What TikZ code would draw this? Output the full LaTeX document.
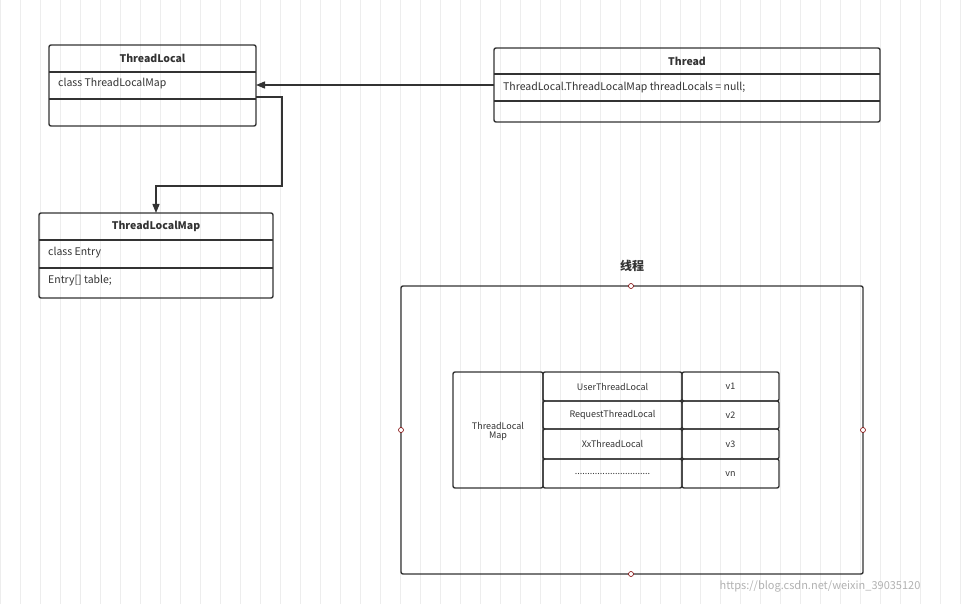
\documentclass[tikz,border=0pt]{standalone}
\usepackage{fontspec}
\setmainfont{Noto Sans CJK SC}
\usetikzlibrary{arrows.meta}
\begin{document}
\begin{tikzpicture}[x=1pt,y=-1pt,
  box/.style={draw=black!80,line width=1.4pt,rounded corners=2pt},
  sep/.style={draw=black!80,line width=1.4pt},
  conn/.style={draw=black!80,line width=1.4pt,-{Triangle[length=9pt,width=7pt]}},
  t/.style={font=\fontsize{10.5}{12}\selectfont,text=black!80,anchor=west,inner sep=0},
  tb/.style={font=\fontsize{10.5}{12}\selectfont\bfseries,text=black!80,inner sep=0},
  s/.style={font=\fontsize{9}{10}\selectfont,text=black!80,inner sep=0},
  pt/.style={circle,draw=red!50!black,fill=white,inner sep=0,minimum size=5pt,line width=0.6pt}]
\useasboundingbox (0,0) rectangle (964,604);
\fill[white] (0,0) rectangle (964,604);
\draw[black!7,line width=0.5pt,step=20] (0,0) grid (964,604);
% ThreadLocal
\draw[box] (49,45) rectangle (256,126);
\draw[sep] (49,72) -- (256,72) (49,99) -- (256,99);
\node[tb] (tl) at (152.5,58) {ThreadLocal};
\node[t] (tlm) at (58,84) {class ThreadLocalMap};
\coordinate (tlR) at (256,85);
\coordinate (tlR2) at (256,97);
% Thread
\draw[box] (494,48) rectangle (880,122);
\draw[sep] (494,74) -- (880,74) (494,101) -- (880,101);
\node[tb] (th) at (687,61) {Thread};
\node[t] (thv) at (503,88) {ThreadLocal.ThreadLocalMap threadLocals = null;};
\coordinate (thL) at (494,85);
% ThreadLocalMap
\draw[box] (39,213) rectangle (273,298);
\draw[sep] (39,240) -- (273,240) (39,268) -- (273,268);
\node[tb] (map) at (156,226) {ThreadLocalMap};
\node[t] (e1) at (48,253) {class Entry};
\node[t] (e2) at (48,281) {Entry[] table;};
\coordinate (mapT) at (156,213);
% connectors
\draw[conn] (thL) -- (tlR);
\draw[conn] (tlR2) -- (282,97) -- (282,186) -- (156,186) -- (mapT);
% thread box
\node[font=\fontsize{12}{14}\selectfont\bfseries,text=black!80] (title) at (632,266) {线程};
\draw[box] (401,286) rectangle (863,574);
\node[pt] at (631,286) {};
\node[pt] at (631,574) {};
\node[pt] at (401,430) {};
\node[pt] at (863,430) {};
% table
\draw[box] (453,372) rectangle (543,488);
\node[s,align=center,font=\fontsize{9}{9}\selectfont] (tmap) at (498,431) {ThreadLocal\\Map};
\foreach \ya/\yb/\k/\v [count=\i] in {372/401/UserThreadLocal/v1,401/429/RequestThreadLocal/v2,429/459/XxThreadLocal/v3,459/488/{..............................}/vn}{
  \draw[box] (543,\ya) rectangle (682,\yb);
  \draw[box] (682,\ya) rectangle (779,\yb);
  \node[s] (k\i) at (612.5,{(\ya+\yb)/2}) {\k};
  \node[s] (v\i) at (730.5,{(\ya+\yb)/2}) {\v};
}
\node[font=\fontsize{11}{12}\selectfont,text=black!30,inner sep=0] (wm) at (820,586) {https://blog.csdn.net/weixin\_39035120};
\end{tikzpicture}
\end{document}
